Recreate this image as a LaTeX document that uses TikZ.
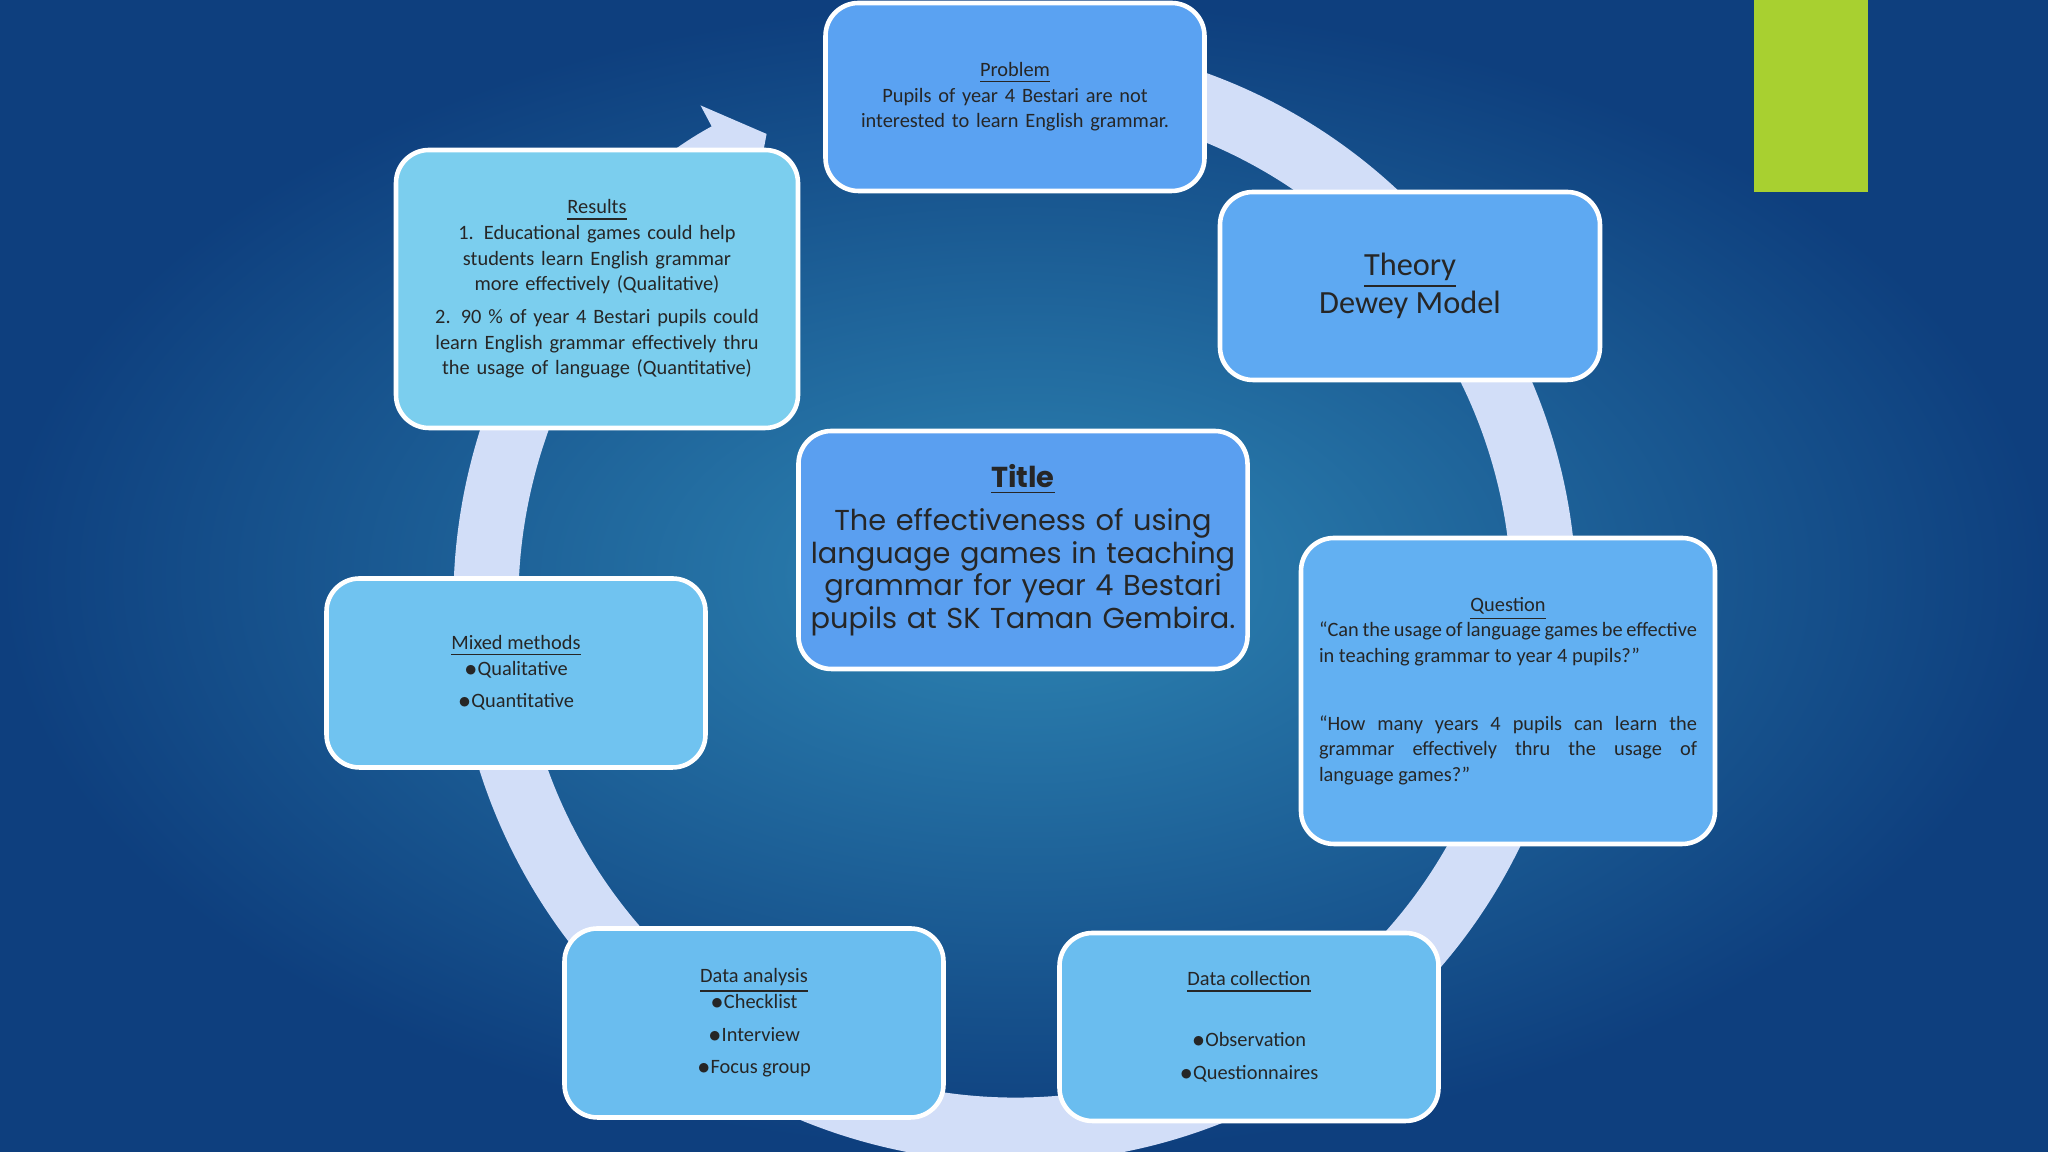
\documentclass[tikz,border=0pt]{standalone}
\usepackage{fontspec}
\setmainfont{Carlito}
\newfontfamily\titlefont{Poppins}
\usetikzlibrary{arrows.meta}
\definecolor{ringcol}{HTML}{D2DEF8}
\definecolor{bgin}{HTML}{2E86B4}
\definecolor{bgout}{HTML}{0E3F7E}
\definecolor{probfill}{HTML}{5AA2F2}
\definecolor{theofill}{HTML}{5EA9F2}
\definecolor{quesfill}{HTML}{62B0F2}
\definecolor{datafill}{HTML}{6ABDEF}
\definecolor{mixfill}{HTML}{70C3F0}
\definecolor{resfill}{HTML}{7BCEEE}
\definecolor{titlefill}{HTML}{5A9FF0}
\definecolor{barcol}{HTML}{A8D030}
\newcommand{\nohyph}{\hyphenpenalty=10000\relax}
\tikzset{
	box/.style={draw=white, line width=1.3pt, rounded corners=0.33cm, text=black!85,
		font=\fontsize{5.8}{7.3}\selectfont\nohyph, align=center, inner sep=2pt}
}
\begin{document}
\begin{tikzpicture}

	\useasboundingbox (0,0) rectangle (20.48,11.52);
	\shade[inner color=bgin, outer color=bgout] (0,0) rectangle (20.48,11.52);
	\fill[barcol] (17.54,9.6) rectangle (18.68,11.52);

	\draw[ringcol, line width=0.65cm, -{Triangle[length=0.45cm,width=1.1cm]}]
		(10.15,5.51) ++(80:5.29) arc[start angle=80, end angle=-242, radius=5.29];

	\node[box, fill=probfill, minimum width=3.79cm, minimum height=1.88cm, text width=3.5cm] (problem) at (10.15,10.55)
		{\underline{Problem}\\Pupils of year 4 Bestari are not interested to learn English grammar.};
	\node[box, fill=theofill, minimum width=3.8cm, minimum height=1.88cm, font=\fontsize{9.2}{10.6}\selectfont] (theory) at (14.10,8.66)
		{\underline{Theory}\\Dewey Model};
	\node[box, fill=quesfill, minimum width=4.14cm, minimum height=3.06cm, text width=3.78cm, align=justify] (question) at (15.08,4.61)
		{{\centering\underline{Question}\par}``Can the usage of language games be effective in teaching grammar to year 4 pupils?''\par\vspace{12pt}``How many years 4 pupils can learn the grammar effectively thru the usage of language games?''};
	\node[box, fill=datafill, minimum width=3.79cm, minimum height=1.88cm] (collect) at (12.49,1.25)
		{\underline{Data collection}\\[10pt]$\bullet$Observation\\[2pt]$\bullet$Questionnaires};
	\node[box, fill=datafill, minimum width=3.79cm, minimum height=1.89cm] (analysis) at (7.54,1.29)
		{\underline{Data analysis}\\$\bullet$Checklist\\[2pt]$\bullet$Interview\\[2pt]$\bullet$Focus group};
	\node[box, fill=mixfill, minimum width=3.79cm, minimum height=1.89cm] (mixed) at (5.16,4.79)
		{\underline{Mixed methods}\\$\bullet$Qualitative\\[2pt]$\bullet$Quantitative};
	\node[box, fill=resfill, minimum width=4.02cm, minimum height=2.78cm, text width=3.85cm] (results) at (5.97,8.63)
		{\underline{Results}\\1. Educational games could help students learn English grammar more effectively (Qualitative)\\[2pt]2. 90 \% of year 4 Bestari pupils could learn English grammar effectively thru the usage of language (Quantitative)};
	\node[box, fill=titlefill, minimum width=4.41cm, minimum height=2.38cm, text width=4.35cm, font=\titlefont\fontsize{8.2}{9.3}\selectfont\nohyph] (title) at (10.23,6.02)
		{{\bfseries\underline{Title}}\\[3pt]The effectiveness of using language games in teaching grammar for year 4 Bestari pupils at SK Taman Gembira.};

\end{tikzpicture}
\end{document}
